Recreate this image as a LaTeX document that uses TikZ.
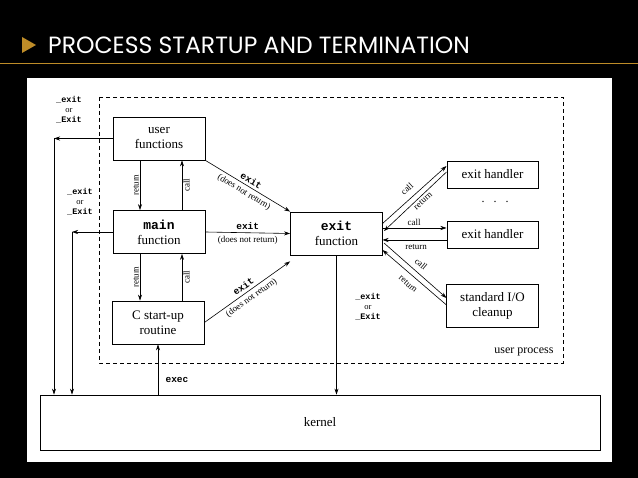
\documentclass[tikz,border=0pt]{standalone}
\usepackage{fontspec}
\setmainfont{Liberation Serif}
\setmonofont{Liberation Mono}
\newfontfamily\titlefont{Poppins}
\usetikzlibrary{arrows.meta}
\definecolor{gold}{RGB}{190,140,40}
\begin{document}
\begin{tikzpicture}[x=1pt,y=-1pt,
  box/.style={draw,thick,minimum width=92pt,minimum height=43pt,align=center,font=\fontsize{13}{15}\selectfont,inner sep=1pt},
  hbox/.style={draw,thick,minimum width=91pt,minimum height=27pt,align=center,font=\fontsize{13}{14}\selectfont},
  arr/.style={-{Stealth[length=6pt,width=4pt]},line width=0.6pt},
  lab/.style={font=\fontsize{9}{9}\selectfont,inner sep=1pt},
  blab/.style={font=\ttfamily\bfseries\fontsize{9.5}{9.5}\selectfont,inner sep=1pt},
  ex/.style={font=\fontsize{8.5}{10}\selectfont,align=center,inner sep=0pt}]
\fill[black] (0,0) rectangle (638,478);
\useasboundingbox (0,0) rectangle (638,478);
\fill[white] (27,78) rectangle (612,462);
\fill[gold] (22,37) -- (36,45) -- (22,53) -- cycle;
\node[anchor=west,text=white,font=\titlefont\fontsize{23.5}{23.5}\selectfont,inner sep=0] (title) at (48,45) {PROCESS STARTUP AND TERMINATION};
\draw[gold,line width=1pt] (0,63.5) -- (638,63.5);
% dashed user process
\draw[thick,dash pattern=on 4pt off 3pt] (99,97) rectangle (563,363);
\node[font=\fontsize{12}{12}\selectfont,anchor=east] (up) at (557,352) {user process};
% nodes
\node[box] (uf) at (159,138.5) {user\\functions};
\node[box] (mf) at (159,232) {\texttt{\bfseries main}\\function};
\node[box] (cs) at (158,322.5) {C start-up\\routine};
\node[box] (ef) at (336.5,233.5) {\texttt{\bfseries exit}\\function};
\node[hbox] (h1) at (492.5,174.5) {exit handler};
\node[hbox] (h2) at (492.5,234.5) {exit handler};
\node[box] (io) at (492.5,306) {standard I/O\\cleanup};
\node[font=\fontsize{12}{12}\selectfont] (dots) at (495,202) {.\hspace{9pt}.\hspace{9pt}.};
\node[draw,thick,minimum width=560pt,minimum height=55pt,font=\fontsize{13}{13}\selectfont] (k) at (320,422.5) {kernel};
% left exits
\coordinate (a1) at (54,138.5);
\coordinate (a2) at (72,232);
\draw[arr] (uf.west) -- (a1);
\draw[arr] (a1) -- (a1 |- k.north);
\draw[arr] (mf.west) -- (a2);
\draw[arr] (a2) -- (a2 |- k.north);
\node[ex] (e1) at (69,110) {\texttt{\bfseries\_exit}\\or\\\texttt{\bfseries\_Exit}};
\node[ex] (e2) at (80,202) {\texttt{\bfseries\_exit}\\or\\\texttt{\bfseries\_Exit}};
\node[ex] (e3) at (368,307) {\texttt{\bfseries\_exit}\\or\\\texttt{\bfseries\_Exit}};
% vertical call/return
\draw[arr] ([xshift=-19pt]uf.south) -- ([xshift=-19pt]mf.north) node[midway,lab,rotate=90,above] {return};
\draw[arr] ([xshift=23pt]mf.north) -- ([xshift=23pt]uf.south) node[midway,lab,rotate=90,below] {call};
\draw[arr] ([xshift=-19pt]mf.south) -- ([xshift=-18pt]cs.north) node[midway,lab,rotate=90,above] {return};
\draw[arr] ([xshift=24pt]cs.north) -- ([xshift=23pt]mf.south) node[midway,lab,rotate=90,below] {call};
% exec
\draw[arr] (k.north -| cs.south) -- (cs.south);
\node[blab] (exec) at (177,380) {exec};
% exits to exit function
\draw[arr] (uf.south east) -- (ef.north west) node[midway,sloped,blab,above=2pt] {exit} node[midway,sloped,lab,below=2pt] {(does not return)};
\draw[arr] (mf.east) -- (ef.west) node[midway,blab,above=2pt] {exit} node[midway,lab,below=2pt] {(does not return)};
\draw[arr] (cs.east) -- ([yshift=-6pt]ef.south west) node[midway,sloped,blab,above=2pt] {exit} node[midway,sloped,lab,below=2pt] {(does not return)};
\draw[arr] (ef.south) -- (ef.south |- k.north);
% handlers
\coordinate (c1a) at (382,224); \coordinate (c1b) at (446.5,166);
\coordinate (r1a) at (446.5,172); \coordinate (r1b) at (384,231);
\draw[arr] (c1a) -- (c1b);
\draw[arr] (r1a) -- (r1b);
\node[lab,rotate=42] (lc1) at (407,189) {call};
\node[lab,rotate=42] (lr1) at (423,201) {return};
\coordinate (c2a) at (382.5,228); \coordinate (c2b) at (446.5,228);
\coordinate (r2a) at (446.5,240); \coordinate (r2b) at (382.5,240);
\draw[arr] (c2a) -- (c2b);
\draw[arr] (r2a) -- (r2b);
\node[lab] (lc2) at (414,222) {call};
\node[lab] (lr2) at (416,247) {return};
\coordinate (c3a) at (384,243); \coordinate (c3b) at (446.5,298);
\coordinate (r3a) at (446.5,305); \coordinate (r3b) at (382.5,250);
\draw[arr] (c3a) -- (c3b);
\draw[arr] (r3a) -- (r3b);
\node[lab,rotate=-41] (lc3) at (421,264) {call};
\node[lab,rotate=-41] (lr3) at (408,284) {return};
\end{tikzpicture}
\end{document}
